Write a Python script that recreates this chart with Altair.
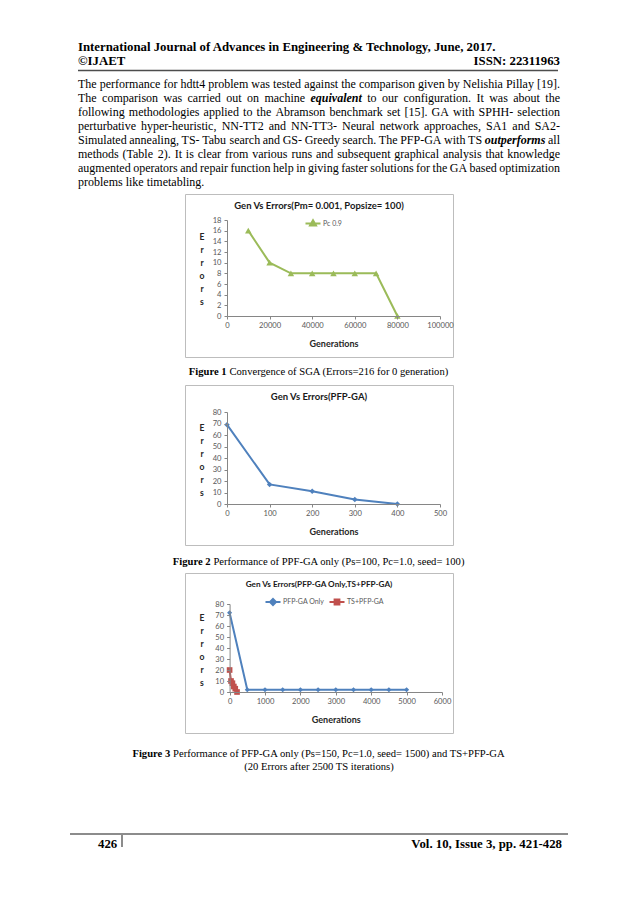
import altair as alt
import pandas as pd

W, H = 622, 886
OFF = 8  # page margin: page coords -> chart coords

# ---------------- text content ----------------
header_title = "International Journal of Advances in Engineering & Technology, June, 2017."
header_left = "©IJAET"
header_right = "ISSN: 22311963"
body_lines = [
    "The performance for hdtt4 problem was tested against the comparison given by Nelishia Pillay [19].",
    "The comparison was carried out on machine *equivalent* to our configuration. It was about the",
    "following methodologies applied to the Abramson benchmark set [15]. GA with SPHH- selection",
    "perturbative hyper-heuristic, NN-TT2 and NN-TT3- Neural network approaches, SA1 and SA2-",
    "Simulated annealing, TS- Tabu search and GS- Greedy search. The PFP-GA with TS *outperforms* all",
    "methods (Table 2). It is clear from various runs and subsequent graphical analysis that knowledge",
    "augmented operators and repair function help in giving faster solutions for the GA based optimization",
    "problems like timetabling.",
]
cap1 = ["Figure 1", "Convergence of SGA (Errors=216 for 0 generation)"]
cap2 = ["Figure 2", "Performance of PPF-GA only (Ps=100, Pc=1.0, seed= 100)"]
cap3 = ["Figure 3", "Performance of PFP-GA only (Ps=150, Pc=1.0, seed= 1500) and TS+PFP-GA"]
cap3b = "(20 Errors after 2500 TS iterations)"
footer_page = "426"
footer_vol = "Vol. 10, Issue 3, pp. 421-428"

# ---------------- chart data ----------------
c1_title = "Gen Vs Errors(Pm= 0.001, Popsize= 100)"
c1_series = "Pc 0.9"
c1_gen = [10000, 20000, 30000, 40000, 50000, 60000, 70000, 80000]
c1_err = [16, 10, 8, 8, 8, 8, 8, 0]
c1_xticks = [0, 20000, 40000, 60000, 80000, 100000]
c1_yticks = [0, 2, 4, 6, 8, 10, 12, 14, 16, 18]

c2_title = "Gen Vs Errors(PFP-GA)"
c2_series = "PFP-GA"
c2_gen = [0, 100, 200, 300, 400]
c2_err = [69, 17, 11, 4, 0]
c2_xticks = [0, 100, 200, 300, 400, 500]
c2_yticks = [0, 10, 20, 30, 40, 50, 60, 70, 80]

c3_title = "Gen Vs Errors(PFP-GA Only,TS+PFP-GA)"
c3_series_a = "PFP-GA Only"
c3_gen_a = [0, 500, 1000, 1500, 2000, 2500, 3000, 3500, 4000, 4500, 5000]
c3_err_a = [72, 2, 2, 2, 2, 2, 2, 2, 2, 2, 2]
c3_series_b = "TS+PFP-GA"
c3_gen_b = [0, 40, 80, 120, 160, 210]
c3_err_b = [20, 10, 8, 5, 3, 0]
c3_xticks = [0, 1000, 2000, 3000, 4000, 5000, 6000]
c3_yticks = [0, 10, 20, 30, 40, 50, 60, 70, 80]

y_title_letters = ["E", "r", "r", "o", "r", "s"]
x_title = "Generations"

GREEN, BLUE, RED = "#9BBB59", "#4F81BD", "#C0504D"
SERIF = "Liberation Serif"
SANS = "Lato"

# ---------------- approximate Times metrics (1/1000 em) ----------------
REG = {' ': 250, '&': 778, '(': 333, ')': 333, ',': 250, '-': 333, '.': 250, ':': 278,
       '=': 564, '+': 564, '[': 333, ']': 333, '©': 760,
       'A': 722, 'B': 667, 'C': 667, 'D': 722, 'E': 611, 'F': 556, 'G': 722, 'H': 722, 'I': 333,
       'J': 389, 'K': 722, 'L': 611, 'M': 889, 'N': 722, 'O': 722, 'P': 556, 'Q': 722, 'R': 667,
       'S': 556, 'T': 611, 'U': 722, 'V': 722, 'W': 944, 'X': 722, 'Y': 722, 'Z': 611,
       'a': 444, 'b': 500, 'c': 444, 'd': 500, 'e': 444, 'f': 333, 'g': 500, 'h': 500, 'i': 278,
       'j': 278, 'k': 500, 'l': 278, 'm': 778, 'n': 500, 'o': 500, 'p': 500, 'q': 500, 'r': 333,
       's': 389, 't': 278, 'u': 500, 'v': 500, 'w': 722, 'x': 500, 'y': 500, 'z': 444}
BOLD = {' ': 250, '&': 833, '(': 333, ')': 333, ',': 250, '-': 333, '.': 250, ':': 333, '©': 747,
        'A': 722, 'B': 667, 'C': 722, 'D': 722, 'E': 667, 'F': 611, 'G': 778, 'H': 778, 'I': 389,
        'J': 500, 'K': 778, 'L': 667, 'M': 944, 'N': 722, 'O': 778, 'P': 611, 'Q': 778, 'R': 722,
        'S': 556, 'T': 667, 'U': 722, 'V': 722, 'W': 1000, 'X': 722, 'Y': 722, 'Z': 667,
        'a': 500, 'b': 556, 'c': 444, 'd': 556, 'e': 444, 'f': 333, 'g': 500, 'h': 556, 'i': 278,
        'j': 333, 'k': 556, 'l': 278, 'm': 833, 'n': 556, 'o': 500, 'p': 556, 'q': 556, 'r': 444,
        's': 389, 't': 333, 'u': 556, 'v': 500, 'w': 722, 'x': 500, 'y': 500, 'z': 444}
BI = {'a': 500, 'b': 500, 'c': 444, 'd': 500, 'e': 444, 'f': 333, 'g': 500, 'h': 556, 'i': 278,
      'j': 278, 'k': 500, 'l': 278, 'm': 778, 'n': 556, 'o': 500, 'p': 500, 'q': 500, 'r': 389,
      's': 389, 't': 278, 'u': 556, 'v': 444, 'w': 667, 'x': 500, 'y': 444, 'z': 389}


def tw(s, table, size):
    return sum(table.get(c, 500) for c in s) * size / 1000.0


def txt(s, x, y, size, weight="normal", font=SERIF, align="left", color="black",
        style="normal", baseline="alphabetic"):
    return alt.Chart().mark_text(
        text=s, align=align, baseline=baseline, font=font, fontSize=size,
        fontWeight=weight, fontStyle=style, color=color
    ).encode(x=alt.value(x - OFF), y=alt.value(y - OFF))


def hrule(x1, x2, y, color, width):
    return alt.Chart().mark_rule(color=color, strokeWidth=width).encode(
        x=alt.value(x1 - OFF), x2=alt.value(x2 - OFF), y=alt.value(y - OFF))


def vrule(x, y1, y2, color, width):
    return alt.Chart().mark_rule(color=color, strokeWidth=width).encode(
        x=alt.value(x - OFF), y=alt.value(y1 - OFF), y2=alt.value(y2 - OFF))


def box(x1, y1, x2, y2):
    return alt.Chart().mark_rect(fill="transparent", stroke="#BDBDBD", strokeWidth=1).encode(
        x=alt.value(x1 - OFF), x2=alt.value(x2 - OFF),
        y=alt.value(y1 - OFF), y2=alt.value(y2 - OFF))


layers = []

# chart boxes
layers += [box(185.5, 194.5, 453.5, 357.5), box(185.5, 385.5, 453.5, 545.5),
           box(185.5, 573.5, 453.5, 733.5)]

# header
HS = 12.8
layers.append(txt(header_title, 78, 51, HS, weight="bold"))
layers.append(txt(header_left, 78, 65.3, HS, weight="bold"))
layers.append(txt(header_right, 560, 65.3, HS, weight="bold", align="right"))
layers.append(hrule(78, 558, 70.5, "#4D4D4D", 1.5))

# body text, justified word by word
BODY_L, BODY_R, BS = 78, 560, 12
rows = []
for i, line in enumerate(body_lines):
    items = []
    for w in line.split(" "):
        if w.startswith("*") and w.endswith("*"):
            items.append((w[1:-1], "bi"))
        else:
            items.append((w, "r"))
    widths = [tw(w, BI if st == "bi" else REG, BS) for w, st in items]
    y = 88 + 14 * i
    if i == len(body_lines) - 1:
        gap = REG[" "] * BS / 1000.0
    else:
        gap = (BODY_R - BODY_L - sum(widths)) / (len(items) - 1)
    x = BODY_L
    for (w, st), wd in zip(items, widths):
        rows.append({"w": w, "x": x - OFF, "y": y - OFF, "style": st})
        x += wd + gap
body_df = pd.DataFrame(rows)
for st, weight, fstyle in [("r", "normal", "normal"), ("bi", "bold", "italic")]:
    layers.append(
        alt.Chart(body_df[body_df["style"] == st]).mark_text(
            align="left", baseline="alphabetic", font=SERIF, fontSize=BS,
            fontWeight=weight, fontStyle=fstyle, color="black"
        ).encode(x=alt.X("x:Q", scale=None, axis=None),
                 y=alt.Y("y:Q", scale=None, axis=None), text="w:N"))


def caption(parts, cx, y, size):
    bw = tw(parts[0], BOLD, size)
    sp = tw(" ", REG, size)
    rw = tw(parts[1], REG, size)
    start = cx - (bw + sp + rw) / 2
    return [txt(parts[0], start, y, size, weight="bold"),
            txt(parts[1], start + bw + sp, y, size)]


CS = 10.6
layers += caption(cap1, 319, 374.5, CS)
layers += caption(cap2, 319, 564.5, CS)
layers += caption(cap3, 319, 756.5, CS)
layers.append(txt(cap3b, 319, 769.5, CS, align="center"))

# footer
layers.append(hrule(70, 568, 834, "#8C8C8C", 2))
layers.append(vrule(122, 834, 847, "#8C8C8C", 2))
layers.append(txt(footer_page, 98, 848, HS, weight="bold"))
layers.append(txt(footer_vol, 562, 848, HS, weight="bold", align="right"))

# ---------------- the three charts ----------------
AX = dict(grid=False, domainColor="#868686", tickColor="#868686", tickSize=3,
          labelFont=SANS, labelFontSize=7.6, labelColor="#595959", labelOverlap=False,
          labelFlush=False, titleFont=SANS, titleFontWeight="bold",
          titleColor="#262626", zindex=1)


def sym_path(marker):
    if marker == "triangle":
        return "M-2.5,0H2.5M0,-1.1L1,0.7H-1Z"
    if marker == "diamond":
        return "M-2.5,0H2.5M0,-1L1,0L0,1L-1,0Z"
    return "M-2.5,0H2.5M-0.8,-0.8H0.8V0.8H-0.8Z"


def series_layer(gen, err, series, color, shape, msize, xdom, xr, ydom, yr,
                 xticks, yticks, show_axes, legend_pos, marker, ytitle_top):
    df = pd.DataFrame({"gen": gen, "err": err, "series": series})
    xs = alt.Scale(domain=xdom, range=[xr[0] - OFF, xr[1] - OFF], nice=False, zero=False)
    ys = alt.Scale(domain=ydom, range=[yr[0] - OFF, yr[1] - OFF], nice=False, zero=False)
    if show_axes:
        xa = alt.Axis(orient="bottom", offset=(yr[0] - OFF) - H, values=xticks, format="d",
                      labelPadding=2, title=x_title, titleY=27, titleBaseline="middle",
                      titleFontSize=9, **AX)
        ya = alt.Axis(orient="left", offset=-(xr[0] - OFF), values=yticks, format="d",
                      labelPadding=3, title=y_title_letters, titleAngle=0,
                      titleX=201.5 - xr[0], titleY=ytitle_top - OFF, titleAlign="center",
                      titleBaseline="top", titleLineHeight=13, titleFontSize=8.6, **AX)
    else:
        xa = None
        ya = None
    if legend_pos is None:
        leg = None
    else:
        leg = alt.Legend(orient="none", legendX=legend_pos[0] - OFF, legendY=legend_pos[1] - OFF,
                         title=None, symbolType=sym_path(marker), symbolSize=36,
                         symbolStrokeWidth=2, labelFont=SANS, labelFontSize=7,
                         labelColor="#595959", labelOffset=6, padding=0)
    return alt.Chart(df).mark_line(
        strokeWidth=2,
        point=alt.OverlayMarkDef(shape=shape, filled=True, size=msize)
    ).encode(
        x=alt.X("gen:Q", scale=xs, axis=xa),
        y=alt.Y("err:Q", scale=ys, axis=ya),
        color=alt.Color("series:N", scale=alt.Scale(domain=[series], range=[color]), legend=leg),
    )


# chart 1
layers.append(txt(c1_title, 319, 206, 9.5, weight="bold", font=SANS, align="center",
                  color="#1A1A1A", baseline="middle"))
layers.append(series_layer(c1_gen, c1_err, c1_series, GREEN, "triangle-up", 42,
                           [0, 100000], [227, 440], [0, 18], [316, 220],
                           c1_xticks, c1_yticks, True, (309, 219.5), "triangle", 232.5))
# chart 2
layers.append(txt(c2_title, 319, 397, 9.5, weight="bold", font=SANS, align="center",
                  color="#1A1A1A", baseline="middle"))
layers.append(series_layer(c2_gen, c2_err, c2_series, BLUE, "diamond", 30,
                           [0, 500], [227, 440], [0, 80], [504, 412],
                           c2_xticks, c2_yticks, True, None, "diamond", 423.5))
# chart 3
layers.append(txt(c3_title, 319, 585, 8.2, weight="bold", font=SANS, align="center",
                  color="#1A1A1A", baseline="middle"))
layers.append(series_layer(c3_gen_a, c3_err_a, c3_series_a, BLUE, "diamond", 26,
                           [0, 6000], [229.6, 442], [0, 80], [692, 604],
                           c3_xticks, c3_yticks, True, (269, 598), "diamond", 613.5))
layers.append(series_layer(c3_gen_b, c3_err_b, c3_series_b, RED, "square", 32,
                           [0, 6000], [229.6, 442], [0, 80], [692, 604],
                           c3_xticks, c3_yticks, False, (333, 598), "square", 613.5))

chart = alt.layer(*layers).resolve_scale(
    x="independent", y="independent", color="independent"
).resolve_axis(
    x="independent", y="independent"
).resolve_legend(
    color="independent"
).properties(
    width=W, height=H, autosize=alt.AutoSizeParams(type="none"), padding=0,
    background="white"
).configure_view(stroke=None)

chart.save("out.html", embed_options={"renderer": "svg", "actions": False})
